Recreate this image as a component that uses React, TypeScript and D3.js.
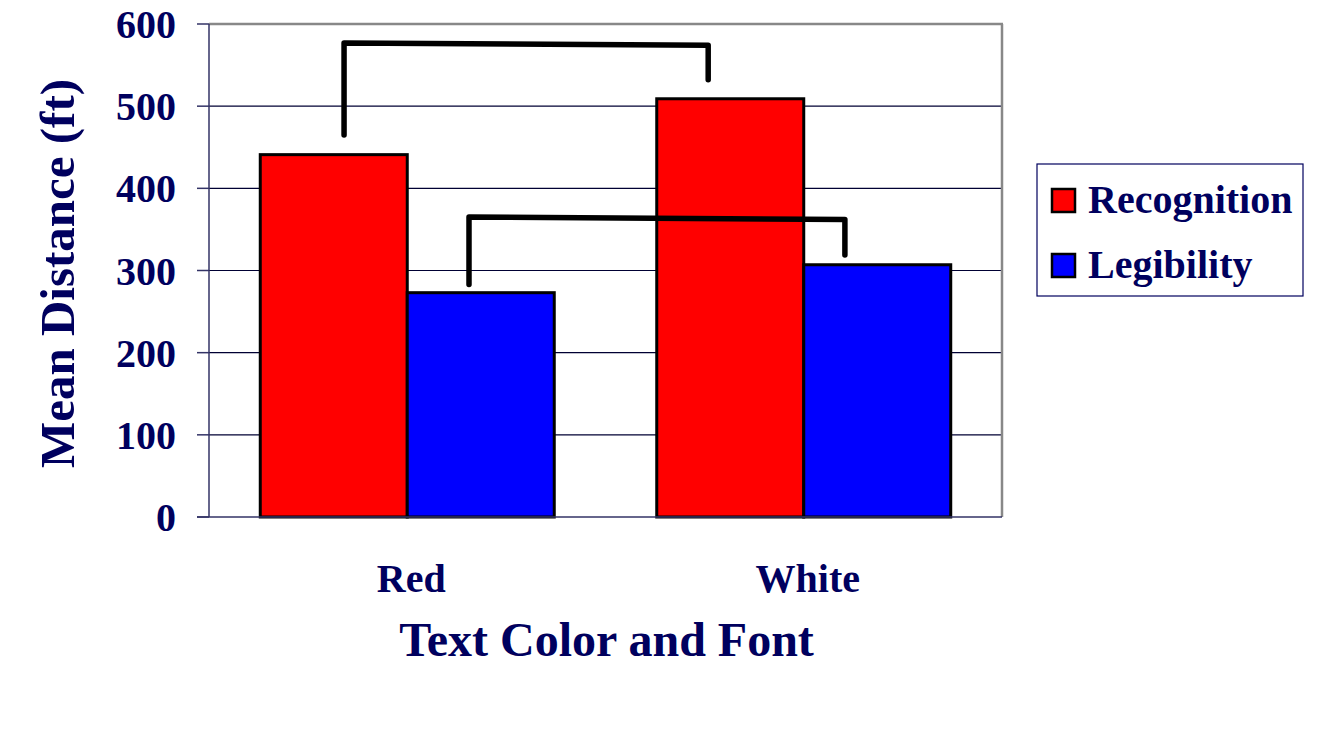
import React, { useEffect, useRef } from 'react';
import * as d3 from 'd3';

const categories = ["Red", "White"];
const seriesNames = ["Recognition", "Legibility"];
const recognition = [441, 509];
const legibility = [273, 307];
const yTicks = [0, 100, 200, 300, 400, 500, 600];
const seriesColors = ["#ff0000", "#0000ff"];

// significance brackets: leg positions are given as fraction of bar width
const brackets = [
  { fromCat: "Red", toCat: "White", series: "Recognition", fromFrac: 0.57, toFrac: 0.35, fromLow: 465, fromHigh: 577, toHigh: 574, toLow: 532 },
  { fromCat: "Red", toCat: "White", series: "Legibility", fromFrac: 0.42, toFrac: 0.28, fromLow: 283, fromHigh: 365, toHigh: 362, toLow: 319 },
];

const NAVY = "#00005e";
const FONT = "'Liberation Serif', 'Times New Roman', serif";

export default function App() {
  const svgRef = useRef<SVGSVGElement>(null);

  useEffect(() => {
    if (!svgRef.current) return;
    d3.select(svgRef.current).selectAll("*").remove();

    const left = 209, right = 1002, top = 24, bottom = 517;

    const svg = d3.select(svgRef.current)
      .attr("width", 1333)
      .attr("height", 737);

    svg.append("rect").attr("width", 1333).attr("height", 737).attr("fill", "#fff");

    const x0 = d3.scaleBand<string>()
      .domain(categories)
      .range([left, right])
      .paddingInner(0.2585)
      .paddingOuter(0.1293);

    const x1 = d3.scaleBand<string>()
      .domain(seriesNames)
      .range([0, x0.bandwidth()]);

    const y = d3.scaleLinear().domain([0, 600]).range([bottom, top]);

    // gridlines
    svg.append("g")
      .selectAll("line")
      .data(yTicks.filter(t => t > 0 && t < 600))
      .join("line")
      .attr("x1", left).attr("x2", right)
      .attr("y1", d => y(d)).attr("y2", d => y(d))
      .attr("stroke", "#000033")
      .attr("stroke-width", 1.2);

    // plot border (top / right)
    svg.append("line")
      .attr("x1", left).attr("x2", right + 1)
      .attr("y1", y(600)).attr("y2", y(600))
      .attr("stroke", "#888").attr("stroke-width", 2.5);
    svg.append("line")
      .attr("x1", right).attr("x2", right)
      .attr("y1", y(600)).attr("y2", y(0))
      .attr("stroke", "#888").attr("stroke-width", 2.5);

    // bars
    const values = [recognition, legibility];
    const barData = categories.flatMap((c, ci) =>
      seriesNames.map((s, si) => ({ cat: c, series: s, value: values[si][ci], color: seriesColors[si] })));

    svg.append("g")
      .selectAll("rect")
      .data(barData)
      .join("rect")
      .attr("x", d => (x0(d.cat) || 0) + (x1(d.series) || 0))
      .attr("y", d => y(d.value))
      .attr("width", x1.bandwidth())
      .attr("height", d => y(0) - y(d.value))
      .attr("fill", d => d.color)
      .attr("stroke", "#000")
      .attr("stroke-width", 3);

    // axes
    svg.append("line")
      .attr("x1", left).attr("x2", left)
      .attr("y1", y(600)).attr("y2", y(0))
      .attr("stroke", "#333366").attr("stroke-width", 1.5);
    svg.append("line")
      .attr("x1", left - 12).attr("x2", right)
      .attr("y1", y(0)).attr("y2", y(0))
      .attr("stroke", "#333366").attr("stroke-width", 1.5);

    svg.append("g")
      .selectAll("line")
      .data(yTicks)
      .join("line")
      .attr("x1", left - 12).attr("x2", left)
      .attr("y1", d => y(d)).attr("y2", d => y(d))
      .attr("stroke", "#333366").attr("stroke-width", 1.5);

    svg.append("g")
      .selectAll("text")
      .data(yTicks)
      .join("text")
      .attr("x", 176)
      .attr("y", d => y(d) + 14)
      .attr("text-anchor", "end")
      .attr("fill", NAVY)
      .style("font", `bold 40px ${FONT}`)
      .text(d => d);

    // category labels
    svg.append("g")
      .selectAll("text")
      .data(categories)
      .join("text")
      .attr("x", d => (x0(d) || 0) + x0.bandwidth() / 2 + 4)
      .attr("y", 592)
      .attr("text-anchor", "middle")
      .attr("fill", NAVY)
      .style("font", `bold 40px ${FONT}`)
      .text(d => d);

    // axis titles
    svg.append("text")
      .attr("x", (left + right) / 2 + 1)
      .attr("y", 656)
      .attr("text-anchor", "middle")
      .attr("fill", NAVY)
      .style("font", `bold 48px ${FONT}`)
      .text("Text Color and Font");

    svg.append("text")
      .attr("transform", `translate(74,${(y(600) + y(0)) / 2 + 3}) rotate(-90)`)
      .attr("text-anchor", "middle")
      .attr("fill", NAVY)
      .style("font", `bold 49px ${FONT}`)
      .text("Mean Distance (ft)");

    // brackets
    const bx = (cat: string, series: string, frac: number) =>
      (x0(cat) || 0) + (x1(series) || 0) + x1.bandwidth() * frac;

    svg.append("g")
      .selectAll("path")
      .data(brackets)
      .join("path")
      .attr("d", b => d3.line()([
        [bx(b.fromCat, b.series, b.fromFrac), y(b.fromLow)],
        [bx(b.fromCat, b.series, b.fromFrac), y(b.fromHigh)],
        [bx(b.toCat, b.series, b.toFrac), y(b.toHigh)],
        [bx(b.toCat, b.series, b.toFrac), y(b.toLow)],
      ]))
      .attr("fill", "none")
      .attr("stroke", "#000")
      .attr("stroke-width", 5.5)
      .attr("stroke-linecap", "round")
      .attr("stroke-linejoin", "round");

    // legend
    const legend = svg.append("g");
    legend.append("rect")
      .attr("x", 1037).attr("y", 164)
      .attr("width", 266).attr("height", 132)
      .attr("fill", "#fff")
      .attr("stroke", NAVY).attr("stroke-width", 1.2);

    const items = legend.selectAll("g.item")
      .data(seriesNames)
      .join("g")
      .attr("class", "item")
      .attr("transform", (_, i) => `translate(1052,${189 + i * 65})`);

    items.append("rect")
      .attr("width", 23).attr("height", 23)
      .attr("fill", (_, i) => seriesColors[i])
      .attr("stroke", "#000").attr("stroke-width", 2.5);

    items.append("text")
      .attr("x", 36)
      .attr("y", 24)
      .attr("fill", NAVY)
      .style("font", `bold 40px ${FONT}`)
      .text(d => d);
  }, []);

  return (
    <svg ref={svgRef} style={{ position: "absolute", left: 0, top: 0 }}></svg>
  );
}
